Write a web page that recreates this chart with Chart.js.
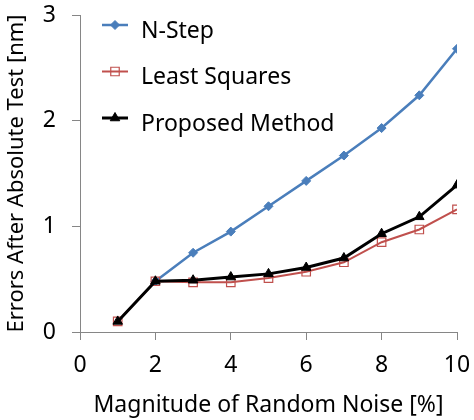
<!DOCTYPE html>
<html>
<head>
<meta charset="utf-8">
<title>Errors After Absolute Test</title>
<script src="https://cdn.jsdelivr.net/npm/chart.js@4/dist/chart.umd.min.js"></script>
<style>
  html, body { margin: 0; padding: 0; background: #fff; }
  #wrap { width: 474px; height: 420px; }
</style>
</head>
<body>
<div id="wrap"><canvas id="chart" width="474" height="420"></canvas></div>
<script>
// data
const noise = [1, 2, 3, 4, 5, 6, 7, 8, 9, 10];
const nStep = [null, 0.48, 0.75, 0.95, 1.19, 1.43, 1.67, 1.93, 2.24, 2.68];
const leastSquares = [0.10, 0.48, 0.47, 0.47, 0.51, 0.57, 0.66, 0.85, 0.97, 1.16];
const proposed = [0.10, 0.48, 0.49, 0.52, 0.55, 0.61, 0.70, 0.93, 1.09, 1.39];
const xTicks = [0, 2, 4, 6, 8, 10];
const yTicks = [0, 1, 2, 3];

const FONT = "'Noto Sans', 'Open Sans', sans-serif";
const AXIS = "#868686";

function toPoints(ys) {
  return noise.map((x, i) => ({ x: x, y: ys[i] }));
}

// legend drawn inside the plot, top-left, like the original
const insideLegend = {
  id: "insideLegend",
  afterDraw(chart) {
    const ctx = chart.ctx;
    const left = chart.chartArea.left;
    ctx.save();
    chart.data.datasets.forEach((ds, i) => {
      const y = 25 + i * 46.5;
      ctx.strokeStyle = ds.borderColor;
      ctx.lineWidth = ds.borderWidth;
      ctx.beginPath();
      ctx.moveTo(left + 22, y);
      ctx.lineTo(left + 48, y);
      ctx.stroke();
      ctx.fillStyle = ds.pointBackgroundColor;
      ctx.strokeStyle = ds.pointBorderColor;
      ctx.lineWidth = ds.pointBorderWidth;
      Chart.helpers.drawPoint(ctx, {
        pointStyle: ds.pointStyle,
        radius: ds.pointRadius,
        rotation: 0,
        borderWidth: ds.pointBorderWidth,
      }, left + 35, y);
      ctx.fillStyle = "#000";
      ctx.font = "23px " + FONT;
      ctx.textBaseline = "middle";
      ctx.textAlign = "left";
      ctx.fillText(ds.label, left + 61, y + 6);
    });
    ctx.restore();
  },
};

new Chart(document.getElementById("chart"), {
  type: "line",
  data: {
    datasets: [
      {
        label: "N-Step",
        data: toPoints(nStep),
        borderColor: "#4A7EBB",
        borderWidth: 2.5,
        pointStyle: "rectRot",
        pointRadius: 4.5,
        pointBackgroundColor: "#4A7EBB",
        pointBorderColor: "#4A7EBB",
        pointBorderWidth: 1,
        order: 3,
      },
      {
        label: "Least Squares",
        data: toPoints(leastSquares),
        borderColor: "#C0504D",
        borderWidth: 2,
        pointStyle: "rect",
        pointRadius: 6,
        pointBackgroundColor: "rgba(255,255,255,0)",
        pointBorderColor: "#C0504D",
        pointBorderWidth: 1.2,
        order: 2,
      },
      {
        label: "Proposed Method",
        data: toPoints(proposed),
        borderColor: "#000000",
        borderWidth: 3,
        pointStyle: "triangle",
        pointRadius: 5.5,
        pointBackgroundColor: "#000000",
        pointBorderColor: "#000000",
        pointBorderWidth: 1,
        order: 1,
      },
    ],
  },
  options: {
    responsive: false,
    animation: false,
    spanGaps: false,
    layout: { padding: { top: 15, right: 17, left: 0, bottom: 0 } },
    plugins: {
      legend: { display: false },
      tooltip: { enabled: false },
    },
    scales: {
      x: {
        type: "linear",
        min: 0,
        max: 10,
        afterFit(scale) {
          scale.height = 88;
          scale.paddingLeft = 0;
          scale.paddingRight = 0;
        },
        afterBuildTicks(scale) { scale.ticks = xTicks.map((v) => ({ value: v })); },
        grid: { drawOnChartArea: false, drawTicks: true, tickLength: 8, color: AXIS, lineWidth: 1 },
        border: { display: true, color: AXIS, width: 1 },
        ticks: { color: "#000", padding: 12, font: { family: FONT, size: 23 } },
        title: {
          display: true,
          text: "Magnitude of Random Noise [%]",
          color: "#000",
          padding: { top: 0, bottom: 1 },
          font: { family: FONT, size: 23 },
        },
      },
      y: {
        type: "linear",
        min: 0,
        max: 3,
        afterFit(scale) {
          scale.width = 80;
          scale.paddingTop = 0;
          scale.paddingBottom = 0;
        },
        afterBuildTicks(scale) { scale.ticks = yTicks.map((v) => ({ value: v })); },
        grid: { drawOnChartArea: false, drawTicks: true, tickLength: 8, color: AXIS, lineWidth: 1 },
        border: { display: true, color: AXIS, width: 1 },
        ticks: { color: "#000", padding: 16, font: { family: FONT, size: 23 } },
        title: {
          display: true,
          text: "Errors After Absolute Test [nm]",
          color: "#000",
          padding: { top: 4, bottom: 0 },
          font: { family: FONT, size: 22 },
        },
      },
    },
  },
  plugins: [insideLegend],
});
</script>
</body>
</html>
